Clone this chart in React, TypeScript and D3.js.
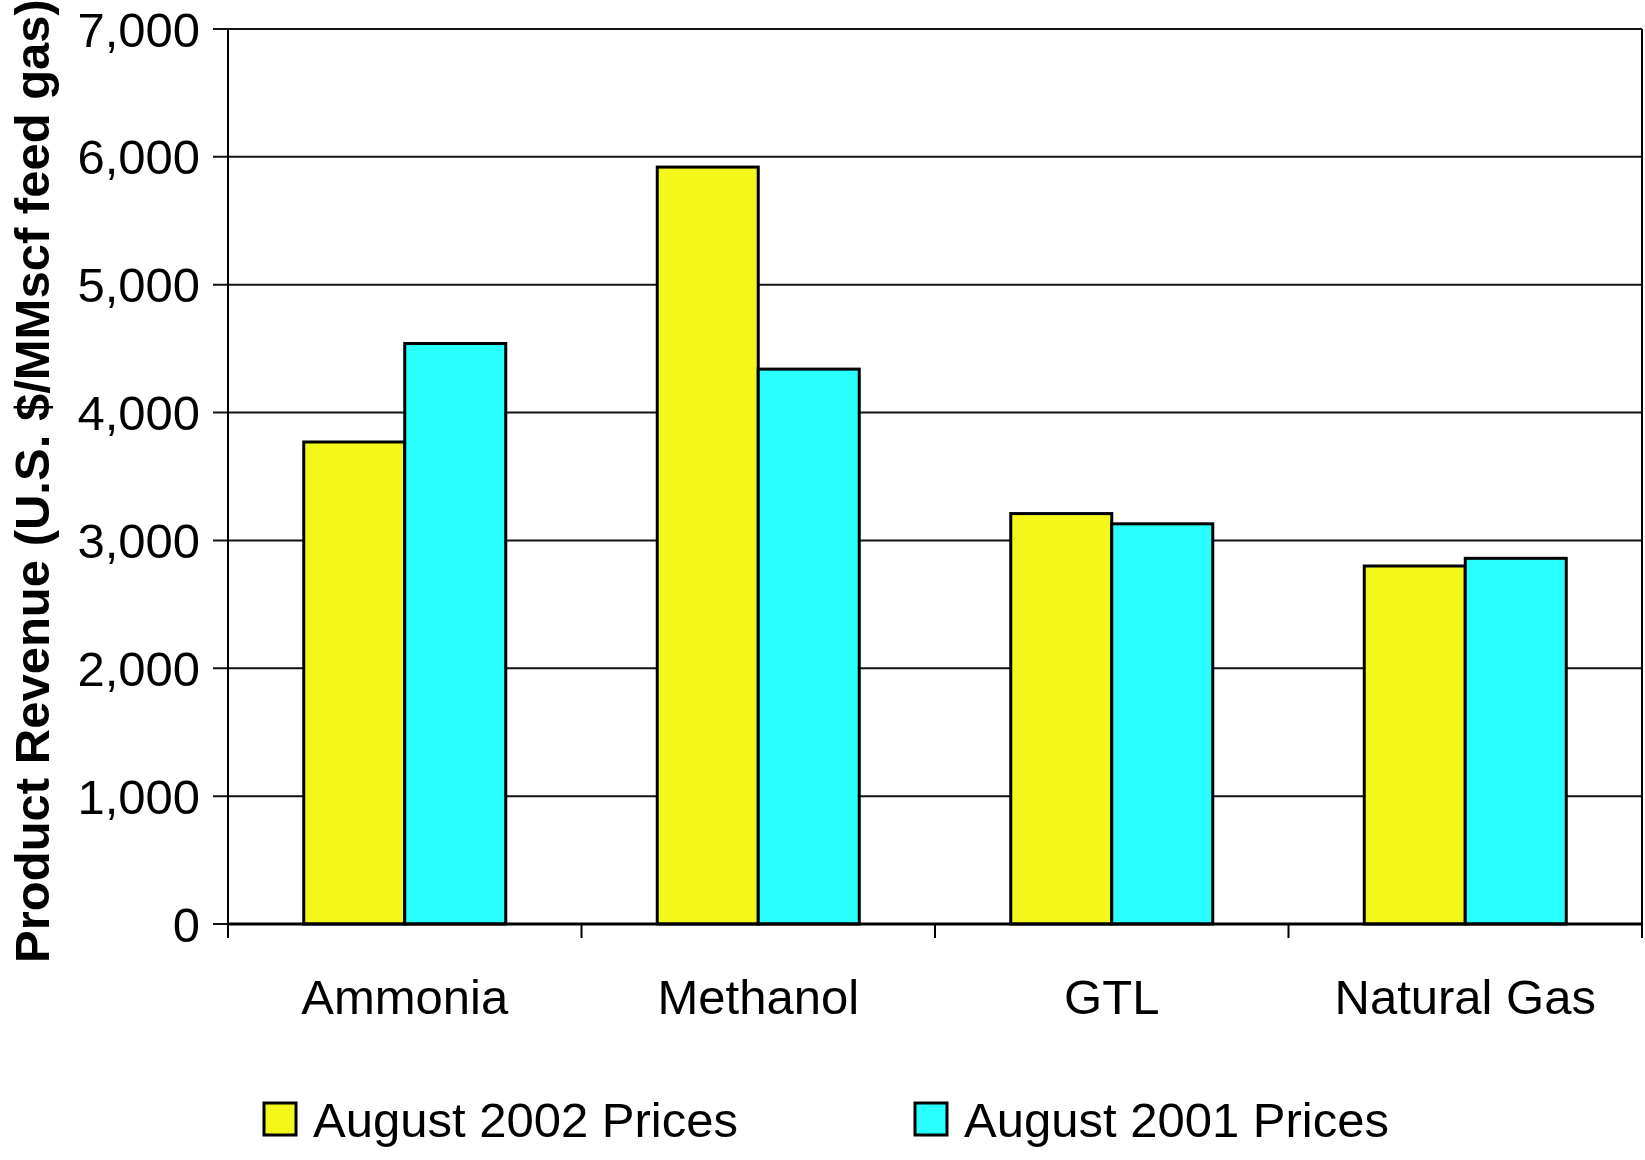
import React from 'react';
import * as d3 from 'd3';

const categories = ['Ammonia', 'Methanol', 'GTL', 'Natural Gas'];
const seriesNames = ['August 2002 Prices', 'August 2001 Prices'];
const aug2002 = [3770, 5920, 3210, 2800];
const aug2001 = [4540, 4340, 3130, 2860];
const yTicks = [0, 1000, 2000, 3000, 4000, 5000, 6000, 7000];
const colors = ['#f4f71a', '#29ffff'];

const W = 1645;
const H = 1160;
const margin = { top: 29, right: 3, bottom: 236, left: 228 };
const font = 'Liberation Sans, Arial, Helvetica, sans-serif';

const App = () => {
  const innerW = W - margin.left - margin.right;
  const innerH = H - margin.top - margin.bottom;

  const x = d3.scaleBand().domain(categories).range([0, innerW]).paddingInner(0).paddingOuter(0);
  // excel style: gap width 150% -> two bars take 2/3.5 of band
  const x1 = d3.scaleBand().domain(seriesNames).range([0, x.bandwidth() * 2 / 3.5]);
  const groupOffset = x.bandwidth() * 0.75 / 3.5;
  const y = d3.scaleLinear().domain([0, 7000]).range([innerH, 0]);
  const fmt = d3.format(',');

  const series = [aug2002, aug2001];
  const catTicks = [...categories.map(c => x(c) as number), innerW];

  return (
    <svg width={W} height={H} style={{ position: 'fixed', left: 0, top: 0, background: '#fff' }} fontFamily={font}>
      <g transform={`translate(${margin.left},${margin.top})`}>
        {/* grid */}
        {yTicks.map(t => (
          <line key={t} x1={-15} x2={innerW} y1={y(t)} y2={y(t)} stroke="#111" strokeWidth={2} />
        ))}
        {yTicks.map(t => (
          <text key={'l' + t} x={-28} y={y(t)} dy="0.36em" textAnchor="end" fontSize={49} fill="#000">
            {fmt(t)}
          </text>
        ))}
        {/* bars */}
        {categories.map((c, i) => (
          <g key={c} transform={`translate(${(x(c) as number) + groupOffset},0)`}>
            {series.map((s, j) => (
              <rect key={j} x={x1(seriesNames[j])} y={y(s[i])} width={x1.bandwidth()} height={innerH - y(s[i])}
                fill={colors[j]} stroke="#000" strokeWidth={3} />
            ))}
          </g>
        ))}
        {/* axes */}
        <line x1={0} x2={0} y1={0} y2={innerH + 14} stroke="#000" strokeWidth={2} />
        <line x1={innerW} x2={innerW} y1={0} y2={innerH + 14} stroke="#000" strokeWidth={2} />
        <line x1={0} x2={innerW} y1={innerH} y2={innerH} stroke="#000" strokeWidth={3} />
        {catTicks.map((t, i) => (
          <line key={'ct' + i} x1={t} x2={t} y1={innerH} y2={innerH + 14} stroke="#000" strokeWidth={2} />
        ))}
        {categories.map(c => (
          <text key={'cl' + c} x={(x(c) as number) + x.bandwidth() / 2} y={innerH + 90} textAnchor="middle" fontSize={49} fill="#000">
            {c}
          </text>
        ))}
      </g>
      {/* y title */}
      <text transform={`translate(49,${481}) rotate(-90)`} textAnchor="middle" fontSize={49} fontWeight="bold" fill="#000">
        Product Revenue (U.S. $/MMscf feed gas)
      </text>
      {/* legend */}
      {seriesNames.map((n, j) => {
        const lx = [264, 915][j];
        return (
          <g key={n} transform={`translate(${lx},1103)`}>
            <rect x={0} y={0} width={32} height={32} fill={colors[j]} stroke="#000" strokeWidth={3} />
            <text x={49} y={16} dy="0.36em" fontSize={49} fill="#000">{n}</text>
          </g>
        );
      })}
    </svg>
  );
};

export default App;
